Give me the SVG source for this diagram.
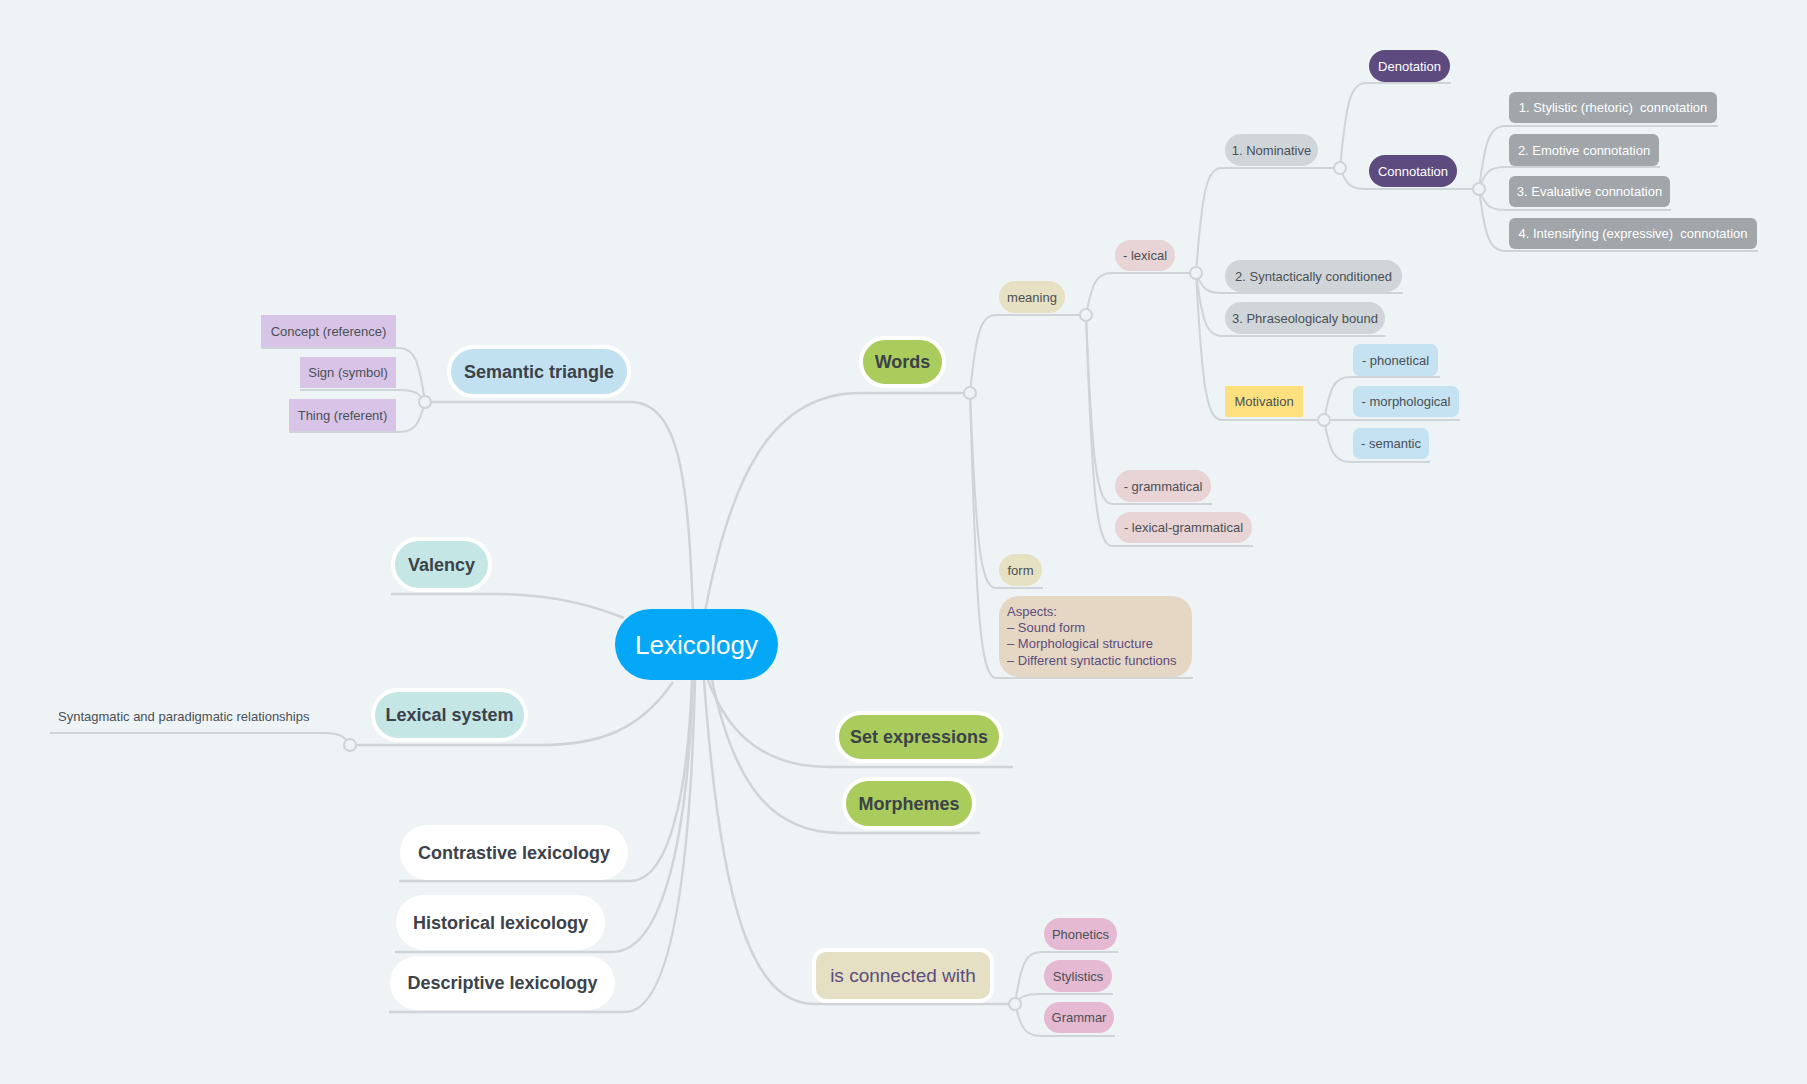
<svg xmlns="http://www.w3.org/2000/svg" width="1807" height="1084" viewBox="0 0 1807 1084">
<style>
.bg{fill:#eef3f6}
.ln{fill:none;stroke:#cfd4d8;stroke-width:2}
.ln0{fill:none;stroke:#cfd4d8;stroke-width:2.5}
.jc{fill:#eef3f6;stroke:#cfd4d8;stroke-width:2}
text{font-family:"Liberation Sans",Arial,sans-serif;dominant-baseline:central;text-anchor:middle}
.big{font-size:18px;font-weight:bold;fill:#3b4249}
.sm{font-size:13px;fill:#4a5057}
.wt{fill:#ffffff}
.pu{fill:#5b4d7c}
.wb{stroke:#ffffff;stroke-width:4}
</style>
<rect class="bg" x="0" y="0" width="1807" height="1084"/>
<g id="connectors">
<path class="ln0" d="M693 612 C688 480 680 402 630 402 L425 402"/>
<path class="ln0" d="M705 612 C730 480 770 393 860 393 L970 393"/>
<path class="ln0" d="M624 618 C580 600 540 594 497 594 L391 594"/>
<path class="ln0" d="M673 682 C640 730 600 745 541 745 L350 745"/>
<path class="ln0" d="M692 680 C688 790 670 881 630 881 L399 881"/>
<path class="ln0" d="M693 680 C688 830 665 952 612 952 L395 952"/>
<path class="ln0" d="M695 680 C690 880 670 1012 625 1012 L389 1012"/>
<path class="ln0" d="M708 680 C730 740 770 767 830 767 L1013 767"/>
<path class="ln0" d="M712 680 C735 790 775 833 840 833 L980 833"/>
<path class="ln0" d="M704 680 C720 900 750 1004 815 1004 L1015 1004"/>
<path class="ln" d="M425 402 C419 361.5 415 348 399 348 L261 348"/>
<path class="ln" d="M425 402 C419 393 415 390 399 390 L300 390"/>
<path class="ln" d="M425 402 C419 424.5 415 432 399 432 L289 432"/>
<path class="ln" d="M350 745 C344 736 340 733 324 733 L50 733"/>
<path class="ln" d="M970 393 C976 334.5 980 315 996 315 L1086 315"/>
<path class="ln" d="M970 393 C976 539 980 588 996 588 L1043 588"/>
<path class="ln" d="M970 393 C976 607 980 678 996 678 L1193 678"/>
<path class="ln" d="M1086 315 C1092 283.5 1096 273 1112 273 L1196 273"/>
<path class="ln" d="M1086 315 C1092 457 1096 504 1112 504 L1212 504"/>
<path class="ln" d="M1086 315 C1092 488 1096 546 1112 546 L1253 546"/>
<path class="ln" d="M1196 273 C1202 194 1206 168 1222 168 L1340 168"/>
<path class="ln" d="M1196 273 C1202 288 1206 293 1222 293 L1403 293"/>
<path class="ln" d="M1196 273 C1202 320 1206 336 1222 336 L1386 336"/>
<path class="ln" d="M1196 273 C1202 383 1206 420 1222 420 L1324 420"/>
<path class="ln" d="M1340 168 C1346 104 1350 83 1366 83 L1451 83"/>
<path class="ln" d="M1340 168 C1346 184 1350 189 1366 189 L1479 189"/>
<path class="ln" d="M1479 189 C1485 142 1489 126 1505 126 L1718 126"/>
<path class="ln" d="M1479 189 C1485 172.5 1489 167 1505 167 L1660 167"/>
<path class="ln" d="M1479 189 C1485 205 1489 210 1505 210 L1671 210"/>
<path class="ln" d="M1479 189 C1485 235.5 1489 251 1505 251 L1758 251"/>
<path class="ln" d="M1324 420 C1330 388 1334 377 1350 377 L1440 377"/>
<path class="ln" d="M1324 420 L1460 420"/>
<path class="ln" d="M1324 420 C1330 451.5 1334 462 1350 462 L1430 462"/>
<path class="ln" d="M1015 1004 C1021 965 1025 952 1041 952 L1118 952"/>
<path class="ln" d="M1015 1004 C1021 996.5 1025 994 1041 994 L1113 994"/>
<path class="ln" d="M1015 1004 C1021 1028 1025 1036 1041 1036 L1115 1036"/>
<circle class="jc" cx="425" cy="402" r="6"/>
<circle class="jc" cx="350" cy="745" r="6"/>
<circle class="jc" cx="970" cy="393" r="6"/>
<circle class="jc" cx="1086" cy="315" r="6"/>
<circle class="jc" cx="1196" cy="273" r="6"/>
<circle class="jc" cx="1340" cy="168" r="6"/>
<circle class="jc" cx="1479" cy="189" r="6"/>
<circle class="jc" cx="1324" cy="420" r="6"/>
<circle class="jc" cx="1015" cy="1004" r="6"/>
</g>
<g id="root"><rect x="615" y="609" width="163" height="71" rx="35.5" fill="#05a8f6"/><text x="696.5" y="645" style="font-size:26px" class="wt">Lexicology</text></g>
<g id="semantic-triangle"><rect class="wb" x="449" y="347" width="180" height="49" rx="24.5" fill="#c2e1f0"/><text class="big" x="539" y="372">Semantic triangle</text></g>
<g id="concept"><rect x="261" y="315" width="135" height="32" fill="#d7c4e6"/><text class="sm" x="328.5" y="331">Concept (reference)</text></g>
<g id="sign"><rect x="300" y="357" width="96" height="31" fill="#d7c4e6"/><text class="sm" x="348" y="372.5">Sign (symbol)</text></g>
<g id="thing"><rect x="289" y="399" width="107" height="32" fill="#d7c4e6"/><text class="sm" x="342.5" y="415">Thing (referent)</text></g>
<g id="valency"><rect class="wb" x="393" y="539" width="97" height="51" rx="25.5" fill="#c4e6e5"/><text class="big" x="441.5" y="564.5">Valency</text></g>
<g id="lexical-system"><rect class="wb" x="373" y="690" width="153" height="50" rx="25" fill="#c4e6e5"/><text class="big" x="449.5" y="715">Lexical system</text></g>
<g id="syntagmatic"><text class="sm" x="58" y="716" style="text-anchor:start">Syntagmatic and paradigmatic relationships</text></g>
<g id="contrastive"><rect x="400" y="825" width="228" height="55" rx="27.5" fill="#ffffff"/><text class="big" x="514" y="852.5">Contrastive lexicology</text></g>
<g id="historical"><rect x="396" y="895" width="209" height="55" rx="27.5" fill="#ffffff"/><text class="big" x="500.5" y="922.5">Historical lexicology</text></g>
<g id="descriptive"><rect x="390" y="956" width="225" height="54" rx="27" fill="#ffffff"/><text class="big" x="502.5" y="983">Descriptive lexicology</text></g>
<g id="words"><rect class="wb" x="861" y="338" width="83" height="48" rx="24" fill="#a9cc5d"/><text class="big" x="902.5" y="362">Words</text></g>
<g id="set-expressions"><rect class="wb" x="837" y="713" width="164" height="48" rx="24" fill="#a9cc5d"/><text class="big" x="919" y="737">Set expressions</text></g>
<g id="morphemes"><rect class="wb" x="844" y="779" width="130" height="49" rx="24.5" fill="#a9cc5d"/><text class="big" x="909" y="803.5">Morphemes</text></g>
<g id="is-connected"><rect class="wb" x="814" y="950" width="178" height="51" rx="12" fill="#e5e0c4"/><text x="903" y="975.5" style="font-size:19px" class="pu">is connected with</text></g>
<g id="phonetics"><rect x="1044" y="918" width="73" height="32" rx="16" fill="#e5b9d1"/><text class="sm" x="1080.5" y="934">Phonetics</text></g>
<g id="stylistics"><rect x="1044" y="960" width="68" height="32" rx="16" fill="#e5b9d1"/><text class="sm" x="1078" y="976">Stylistics</text></g>
<g id="grammar"><rect x="1044" y="1002" width="70" height="31" rx="15.5" fill="#e5b9d1"/><text class="sm" x="1079" y="1017.5">Grammar</text></g>
<g id="meaning"><rect x="999" y="281" width="66" height="32" rx="16" fill="#e6e1c3"/><text class="sm" x="1032" y="297">meaning</text></g>
<g id="form"><rect x="999" y="554" width="43" height="32" rx="16" fill="#e6e1c3"/><text class="sm" x="1020.5" y="570">form</text></g>
<g id="aspects"><rect x="999" y="596" width="193" height="81" rx="20" fill="#e6d6c4"/><text class="sm pu" x="1007" y="611" style="text-anchor:start;fill:#5b4d7c">Aspects:</text><text class="sm" x="1007" y="627" style="text-anchor:start;fill:#5b4d7c">– Sound form</text><text class="sm" x="1007" y="643" style="text-anchor:start;fill:#5b4d7c">– Morphological structure</text><text class="sm" x="1007" y="660" style="text-anchor:start;fill:#5b4d7c">– Different syntactic functions</text></g>
<g id="lexical"><rect x="1115" y="240" width="60" height="31" rx="15.5" fill="#e8d3d5"/><text class="sm" x="1145" y="255.5">- lexical</text></g>
<g id="grammatical"><rect x="1115" y="470" width="96" height="32" rx="16" fill="#e8d3d5"/><text class="sm" x="1163" y="486">- grammatical</text></g>
<g id="lexical-grammatical"><rect x="1115" y="512" width="137" height="31" rx="15.5" fill="#e8d3d5"/><text class="sm" x="1183.5" y="527.5">- lexical-grammatical</text></g>
<g id="nominative"><rect x="1225" y="134" width="93" height="32" rx="16" fill="#cfd5d8"/><text class="sm" x="1271.5" y="150">1. Nominative</text></g>
<g id="syntactically"><rect x="1225" y="260" width="177" height="32" rx="16" fill="#cfd5d8"/><text class="sm" x="1313.5" y="276">2. Syntactically conditioned</text></g>
<g id="phraseologicaly"><rect x="1225" y="302" width="160" height="32" rx="16" fill="#cfd5d8"/><text class="sm" x="1305" y="318">3. Phraseologicaly bound</text></g>
<g id="motivation"><rect x="1225" y="386" width="78" height="31" fill="#ffe07e"/><text class="sm" x="1264" y="401.5">Motivation</text></g>
<g id="phonetical"><rect x="1353" y="344" width="85" height="32" rx="7" fill="#c4e2f1"/><text class="sm" x="1395.5" y="360">- phonetical</text></g>
<g id="morphological"><rect x="1353" y="386" width="106" height="31" rx="7" fill="#c4e2f1"/><text class="sm" x="1406" y="401.5">- morphological</text></g>
<g id="semantic"><rect x="1353" y="428" width="76" height="31" rx="7" fill="#c4e2f1"/><text class="sm" x="1391" y="443.5">- semantic</text></g>
<g id="denotation"><rect x="1369" y="50" width="81" height="32" rx="16" fill="#5d4b80"/><text class="sm wt" x="1409.5" y="66" style="fill:#ffffff">Denotation</text></g>
<g id="connotation"><rect x="1369" y="155" width="88" height="32" rx="16" fill="#5d4b80"/><text class="sm" x="1413" y="171" style="fill:#ffffff">Connotation</text></g>
<g id="stylistic"><rect x="1509" y="92" width="208" height="31" rx="6" fill="#a0a6aa"/><text class="sm" x="1613" y="107.5" style="fill:#ffffff;white-space:pre">1. Stylistic (rhetoric)  connotation</text></g>
<g id="emotive"><rect x="1509" y="134" width="150" height="32" rx="6" fill="#a0a6aa"/><text class="sm" x="1584" y="150" style="fill:#ffffff">2. Emotive connotation</text></g>
<g id="evaluative"><rect x="1509" y="176" width="161" height="31" rx="6" fill="#a0a6aa"/><text class="sm" x="1589.5" y="191.5" style="fill:#ffffff">3. Evaluative connotation</text></g>
<g id="intensifying"><rect x="1509" y="218" width="248" height="31" rx="6" fill="#a0a6aa"/><text class="sm" x="1633" y="233.5" style="fill:#ffffff;white-space:pre">4. Intensifying (expressive)  connotation</text></g>
</svg>
